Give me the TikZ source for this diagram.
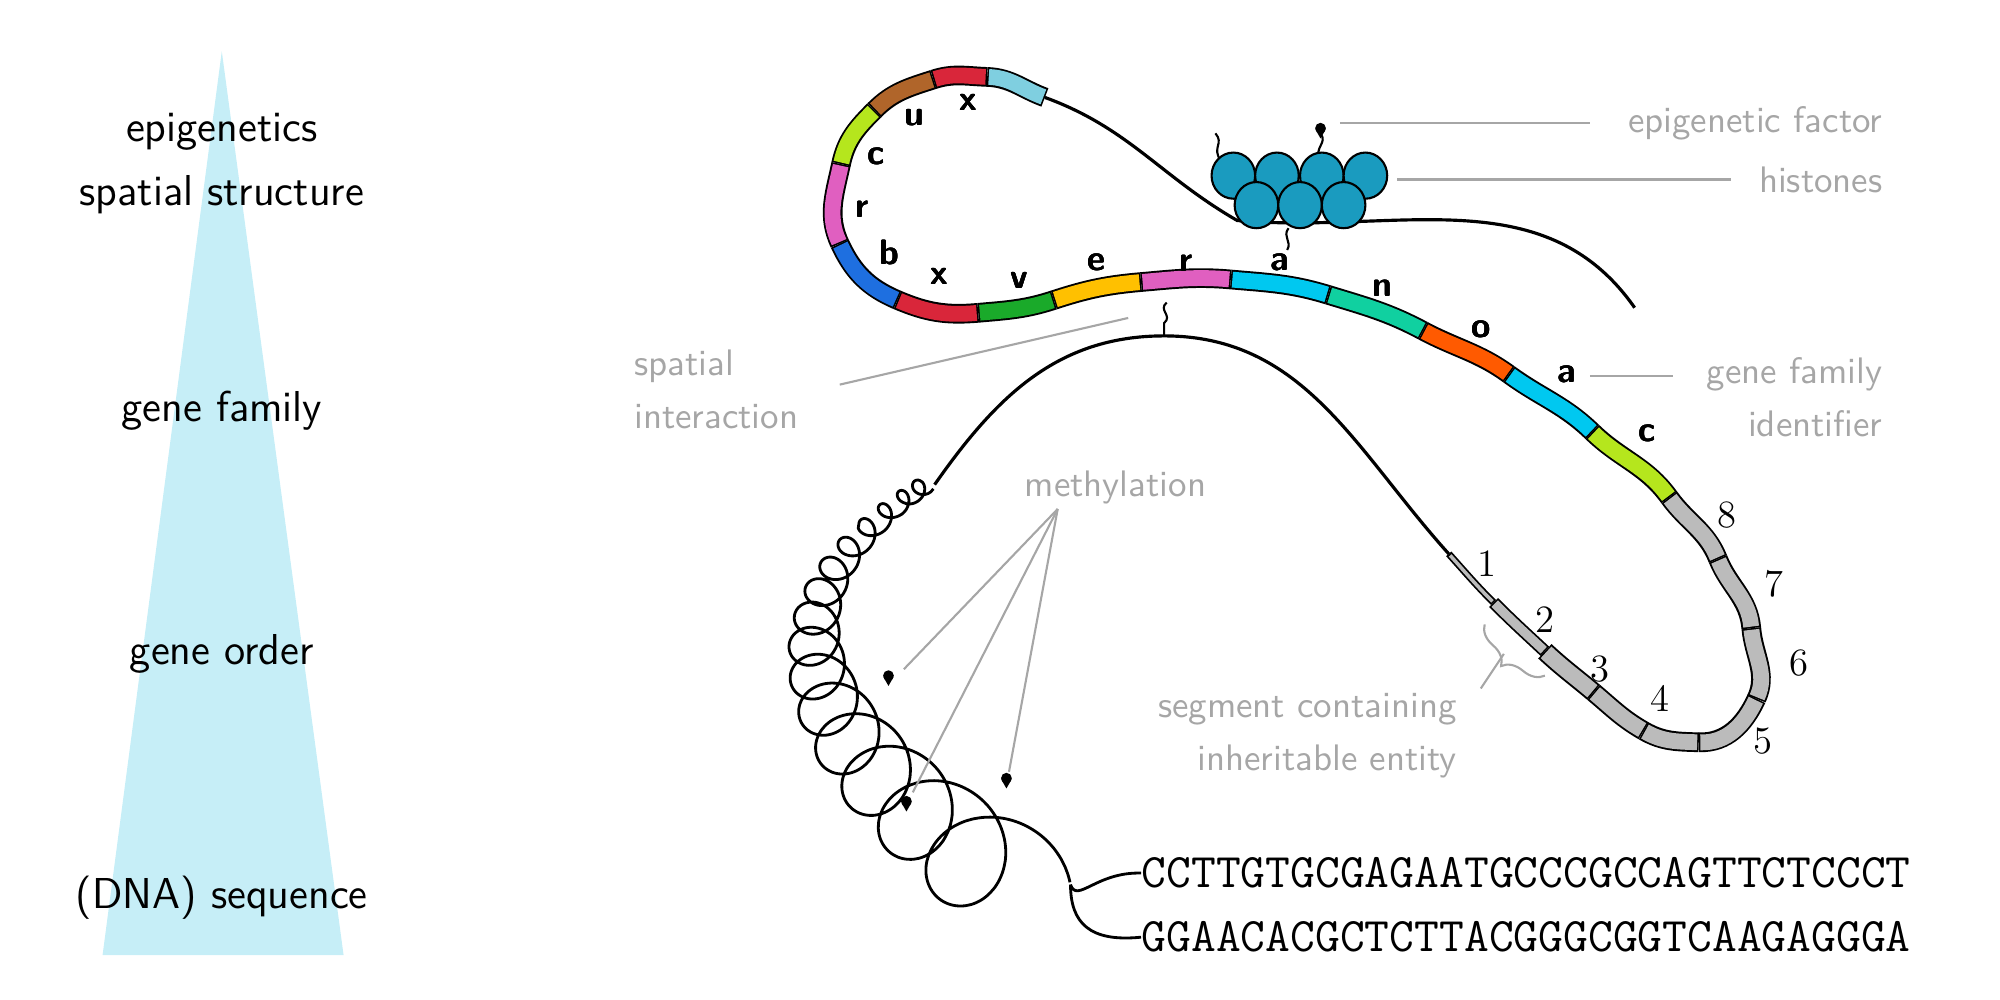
\documentclass[tikz,border=0pt]{standalone}
\usetikzlibrary{decorations.pathreplacing}
\definecolor{tri}{HTML}{C6EEF7}
\definecolor{lbl}{HTML}{A6A6A6}
\definecolor{hist}{HTML}{1A9BBF}
\definecolor{cLB}{HTML}{7FCFE0}
\definecolor{cRed}{HTML}{D9263A}
\definecolor{cBrown}{HTML}{B0652A}
\definecolor{cLime}{HTML}{B5E61D}
\definecolor{cMag}{HTML}{E05FC0}
\definecolor{cBlue}{HTML}{1E6FE0}
\definecolor{cGreen}{HTML}{1AAA2A}
\definecolor{cYel}{HTML}{FFC000}
\definecolor{cCyan}{HTML}{00C8F0}
\definecolor{cTeal}{HTML}{10D0A0}
\definecolor{cOra}{HTML}{FF5A00}
\definecolor{cGray}{HTML}{BBBBBB}
\tikzset{
  bo/.style={line width=5.6pt,black},
  bi/.style={line width=4.5pt,shorten <=0.45pt,shorten >=0.45pt},
  lvl/.style={font=\sffamily\fontsize{12.3}{15}\selectfont,align=center},
  gl/.style={font=\sffamily\fontsize{10.5}{13}\selectfont,text=lbl},
  gline/.style={draw=lbl,line width=0.6pt},
  let/.style={font=\sffamily\bfseries\fontsize{10}{12}\selectfont},
  num/.style={font=\fontsize{11}{13}\selectfont},
  seq/.style={font=\ttfamily\fontsize{13.7}{16}\selectfont,anchor=west,inner sep=0pt},
  hst/.style={fill=hist,draw=black,line width=0.6pt},
  mth/.style={fill=black},
}
\newcommand\bseg[5]{\draw[bo] (#2) to[out=#3,in=#5] (#4); \draw[bi,draw=#1] (#2) to[out=#3,in=#5] (#4);}
\newcommand\heartmark[1]{\fill[mth] #1 circle[radius=4.2]; \fill[mth] #1 ++(-4,1) -- ++(8,0) -- ++(-4,7) -- cycle;}
\begin{document}
\begin{tikzpicture}[x=0.012821cm,y=-0.012821cm]
\useasboundingbox (0,0) rectangle (1560,780);
% triangle
\fill[tri] (173,40) -- (268,745) -- (80,745) -- cycle;
\node[lvl] (l1) at (173,103) {epigenetics};
\node[lvl] (l2) at (173,152) {spatial structure};
\node[lvl] (l3) at (173,320) {gene family};
\node[lvl] (l4) at (173,510) {gene order};
\node[lvl] (l5) at (173,700) {(DNA) sequence};
% band points
\coordinate (B0) at (815,76);
\coordinate (B1) at (770,60);
\coordinate (B2) at (728,62);
\coordinate (B3) at (682,86);
\coordinate (B4) at (656,128);
\coordinate (B5) at (655,190);
\coordinate (B6) at (700,234);
\coordinate (B7) at (763,244);
\coordinate (B8) at (822,234);
\coordinate (B9) at (890,220);
\coordinate (B10) at (960,218);
\coordinate (B11) at (1036,230);
\coordinate (B12) at (1110,258);
\coordinate (B13) at (1177,292);
\coordinate (B14) at (1242,337);
\coordinate (B15) at (1302,388);
\coordinate (B16) at (1340,436);
\coordinate (B17) at (1366,490);
\coordinate (B18) at (1370,545);
\coordinate (B19) at (1325,579);
\coordinate (B20) at (1282,570);
\coordinate (B21) at (1243,540);
\coordinate (B22) at (1205,508);
\coordinate (B23) at (1165,470);
\coordinate (B24) at (1130,432);
\coordinate (Pk) at (908,262);
\coordinate (Hs) at (729,378);
\coordinate (Hb) at (965,172);
\coordinate (Te) at (1275,240);
% thin black lines
\draw[line width=0.9pt] (B24) to[out=132,in=0] (Pk) to[out=180,in=55] (Hs);
\draw[line width=0.9pt] (B0) to[out=-20,in=150] (Hb) to[out=-5,in=125] (Te);
% band
\bseg{cLB}{B0}{160}{B1}{-2}
\bseg{cRed}{B1}{178}{B2}{18}
\bseg{cBrown}{B2}{198}{B3}{45}
\bseg{cLime}{B3}{225}{B4}{78}
\bseg{cMag}{B4}{258}{B5}{115}
\bseg{cBlue}{B5}{295}{B6}{157}
\bseg{cRed}{B6}{337}{B7}{-175}
\bseg{cGreen}{B7}{5}{B8}{-162}
\bseg{cYel}{B8}{18}{B9}{-175}
\bseg{cMag}{B9}{5}{B10}{-185}
\bseg{cCyan}{B10}{-5}{B11}{-197}
\bseg{cTeal}{B11}{-17}{B12}{-208}
\bseg{cOra}{B12}{-28}{B13}{-216}
\bseg{cCyan}{B13}{-36}{B14}{-224}
\bseg{cLime}{B14}{-44}{B15}{-234}
\bseg{cGray}{B15}{-54}{B16}{-248}
\bseg{cGray}{B16}{-68}{B17}{-265}
\bseg{cGray}{B17}{-85}{B18}{-295}
\bseg{cGray}{B18}{-115}{B19}{-2}
\bseg{cGray}{B19}{178}{B20}{-30}
\bseg{cGray}{B20}{150}{B21}{-40}
\bseg{cGray}{B21}{140}{B22}{-43}
\draw[line width=3.6pt] (B22) to[out=137,in=-45] (B23);
\draw[line width=2.6pt,draw=cGray,shorten <=0.45pt,shorten >=0.45pt] (B22) to[out=137,in=-45] (B23);
\draw[line width=2pt] (B23) to[out=135,in=-48] (B24);
\draw[line width=1pt,draw=cGray,shorten <=0.45pt,shorten >=0.6pt] (B23) to[out=135,in=-48] (B24);
% spatial interaction squiggle
\draw[line width=0.6pt] (910,236) .. controls (903,242) and (915,246) .. (908,252) -- (Pk);
% histones
\draw[line width=0.6pt] (952,125) .. controls (945,115) and (955,112) .. (948,104);
\draw[line width=0.6pt] (1030,125) .. controls (1024,115) and (1036,112) .. (1030,104);
\draw[line width=0.6pt] (1005,178) .. controls (1000,185) and (1008,188) .. (1004,195);
\foreach \x in {962,996,1031,1065}
  \draw[hst] (\x,137) ellipse [x radius=17,y radius=18];
\foreach \x in {980,1014,1048}
  \draw[hst] (\x,160) ellipse [x radius=17,y radius=18];
\heartmark{(1030,100)}
% helix
\draw[line width=0.8pt] plot[domain=0.0005:1,samples=1400,variable=\t]
 ({(1-\t)^2*722+2*\t*(1-\t)*520+\t^2*790+(7+38*\t^1.3)*cos(5400*\t^0.7)},
  {(1-\t)^2*378+2*\t*(1-\t)*510+\t^2*690+(7+38*\t^1.3)*sin(5400*\t^0.7)});
\coordinate (He) at ({790+45*cos(0)},{690+45*sin(0)});
\node[seq] (s1) at (890,681) {CCTTGTGCGAGAATGCCCGCCAGTTCTCCCT};
\node[seq] (s2) at (890,731) {GGAACACGCTCTTACGGGCGGTCAAGAGGGA};
\draw[line width=0.8pt] (He) .. controls (840,705) and (855,680) .. (s1.west);
\draw[line width=0.8pt] (He) .. controls (835,720) and (850,735) .. (s2.west);
% methylation marks
\foreach \p in {(693,527),(707,625),(785,607)}
  \heartmark{\p}
% letters
\foreach \x/\y/\l in {713/92/u,755/80/x,683/122/c,672/163/r,694/197/b,733/216/x,795/219/v,855/205/e,925/205/r,998/205/a,1078/225/n,1155/257/o,1222/292/a,1285/338/c}
  \node[let] at (\x,\y) {\l};
% numbers
\foreach \x/\y/\l in {1160/440/1,1205/483/2,1248/522/3,1295/545/4,1375/578/5,1403/517/6,1384/455/7,1347/402/8}
  \node[num] at (\x,\y) {\l};
% gray labels
\node[gl,anchor=east] (ef) at (1478,96) {epigenetic factor};
\node[gl,anchor=east] (hi) at (1478,140) {histones};
\node[gl,anchor=east,align=right] (gf) at (1478,310) {gene family\\[2pt]identifier};
\node[gl,anchor=west,align=left] (si) at (485,304) {spatial\\[2pt]interaction};
\node[gl] (me) at (870,380) {methylation};
\node[gl,anchor=east,align=right] (sc) at (1146,574) {segment containing\\[2pt]inheritable entity};
\draw[gline] (1045,96) -- (1240,96);
\draw[gline] (1090,140) -- (1350,140);
\draw[gline] (1240,293) -- (1305,293);
\draw[gline] (655,300) -- (880,248);
\draw[gline] (825,397) -- (705,522);
\draw[gline] (825,397) -- (712,618);
\draw[gline] (825,397) -- (787,602);
\draw[gline,decorate,decoration={brace,amplitude=6pt}] (1205,527) -- (1158,487);
\draw[gline] (1155,537) -- (1173,510);
\end{tikzpicture}
\end{document}
